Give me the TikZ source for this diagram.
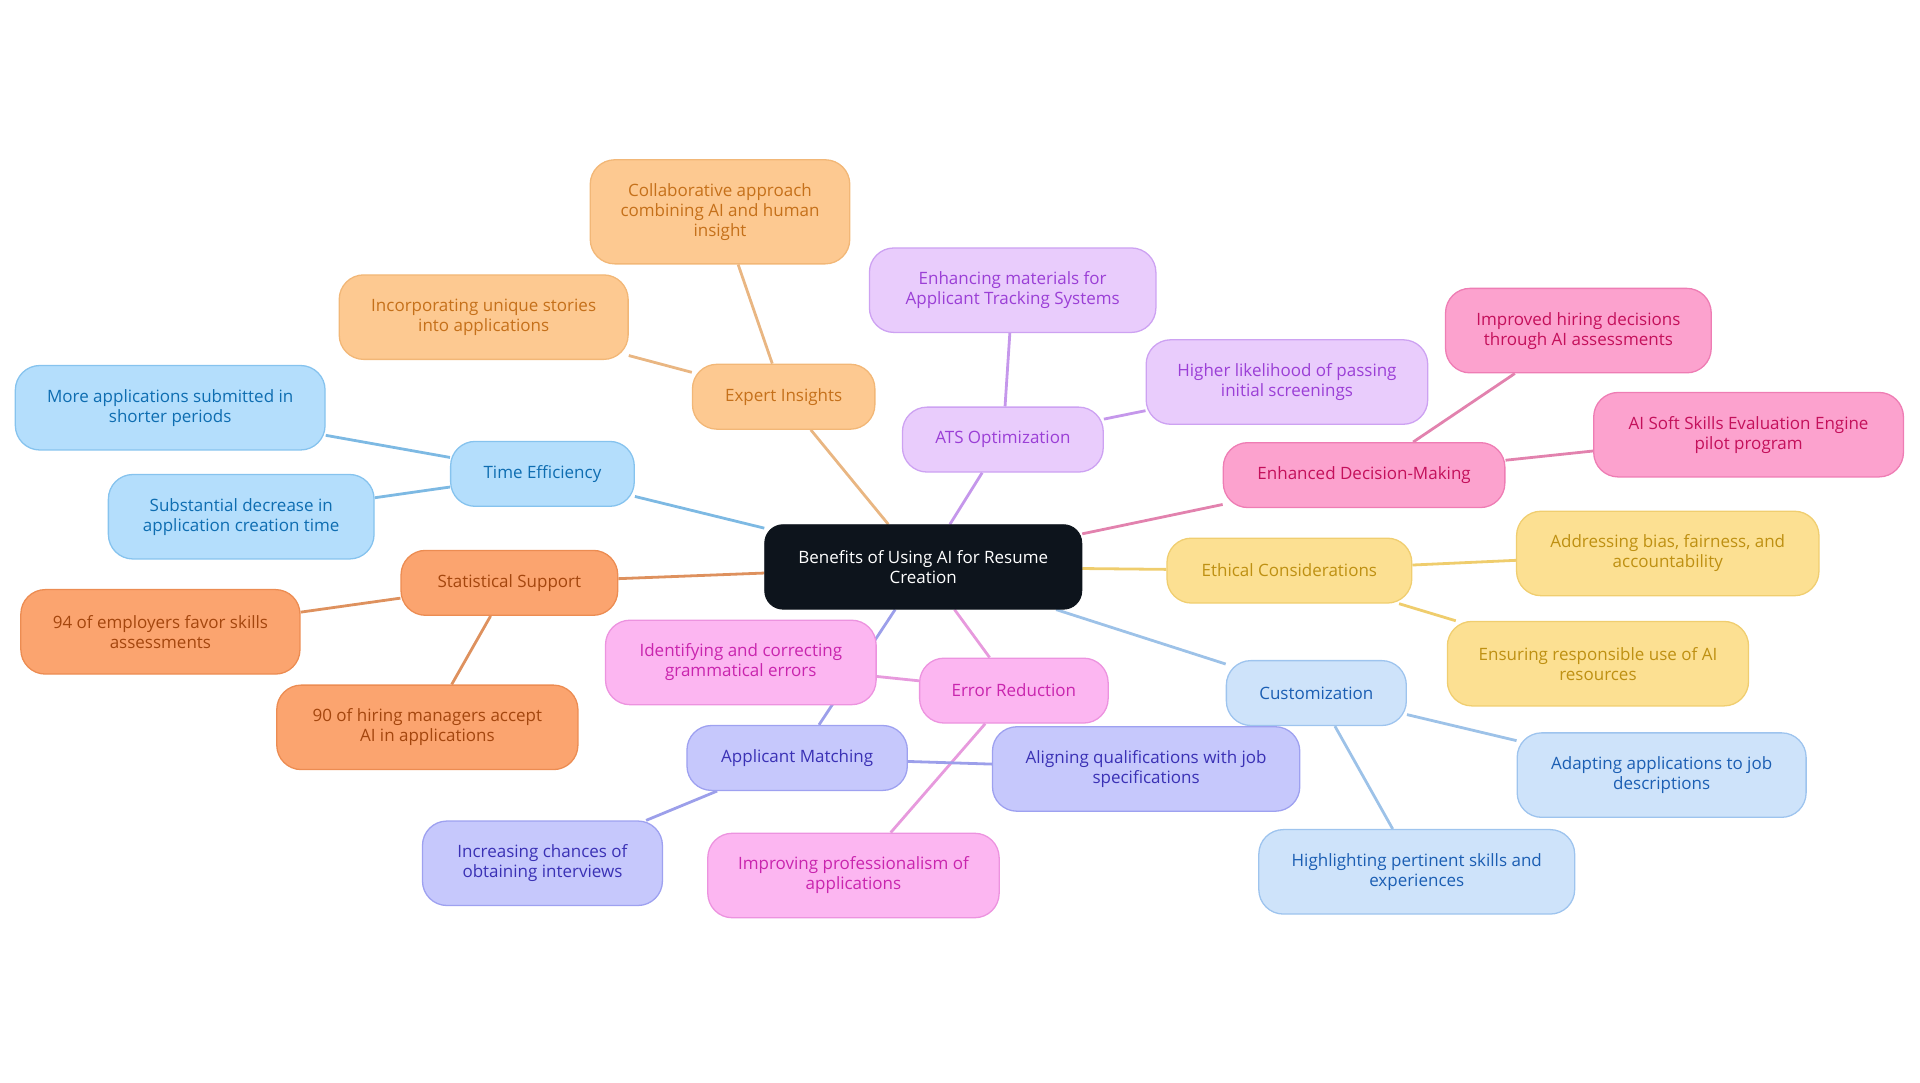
\documentclass[tikz,border=0pt]{standalone}
\usepackage{fontspec}
\setmainfont{Open Sans}
\usetikzlibrary{backgrounds}
\definecolor{rootfill}{HTML}{0D141C}
% one set of colours per branch: fill, rim, ink, edge
\definecolor{tefill}{HTML}{B4DEFC}\definecolor{terim}{HTML}{86C3EE}\definecolor{teink}{HTML}{0E6DB1}\definecolor{teedge}{HTML}{7DB9E3}
\definecolor{eifill}{HTML}{FDC991}\definecolor{eirim}{HTML}{F2B777}\definecolor{eiink}{HTML}{C5701A}\definecolor{eiedge}{HTML}{E9B682}
\definecolor{atfill}{HTML}{E9CCFC}\definecolor{atrim}{HTML}{CDA2F2}\definecolor{atink}{HTML}{9B3FD6}\definecolor{atedge}{HTML}{C597EB}
\definecolor{dmfill}{HTML}{FCA2CE}\definecolor{dmrim}{HTML}{EE7DB4}\definecolor{dmink}{HTML}{C4105B}\definecolor{dmedge}{HTML}{E282AE}
\definecolor{ecfill}{HTML}{FCE092}\definecolor{ecrim}{HTML}{F0CE70}\definecolor{ecink}{HTML}{BE9012}\definecolor{ecedge}{HTML}{EFCD6D}
\definecolor{cufill}{HTML}{CEE3FA}\definecolor{curim}{HTML}{9EC4EE}\definecolor{cuink}{HTML}{1B5EB3}\definecolor{cuedge}{HTML}{9DC2E8}
\definecolor{erfill}{HTML}{FCB6F1}\definecolor{errim}{HTML}{EC93DF}\definecolor{erink}{HTML}{C925AE}\definecolor{eredge}{HTML}{E79ADD}
\definecolor{amfill}{HTML}{C6C8FC}\definecolor{amrim}{HTML}{9EA1F0}\definecolor{amink}{HTML}{3A31B5}\definecolor{amedge}{HTML}{9C9FEA}
\definecolor{ssfill}{HTML}{FBA46F}\definecolor{ssrim}{HTML}{EC8C52}\definecolor{ssink}{HTML}{A4460E}\definecolor{ssedge}{HTML}{DE915E}
\newcommand{\mapfont}{\fontsize{7.9}{9.3}\selectfont}
\tikzset{
  rootbox/.style={rounded corners=0.3cm, fill=rootfill, draw=rootfill, text=white,
    minimum width=5.18cm, minimum height=1.38cm, align=center, inner sep=0pt, font=\mapfont},
  topic/.style={rounded corners=0.4cm, minimum height=1.06cm, line width=0.6pt,
    align=center, inner sep=0pt, font=\mapfont},
  leaf/.style={topic, minimum height=1.38cm},
  branch/.style={fill=#1fill, draw=#1rim, text=#1ink},
  link/.style={line width=1.3pt, draw=#1edge},
}
\begin{document}
\begin{tikzpicture}[x=0.02cm,y=-0.02cm]
  \useasboundingbox (0,0) rectangle (1568,884);
  \node[rootbox] (root) at (754,463) {Benefits of Using AI for Resume\\Creation};
  % main topics
  \node[topic,branch=te,minimum width=3.0cm]  (time)     at (443,387)  {Time Efficiency};
  \node[topic,branch=ei,minimum width=2.98cm] (expert)   at (640,324)  {Expert Insights};
  \node[topic,branch=at,minimum width=3.28cm] (ats)      at (819,359)  {ATS Optimization};
  \node[topic,branch=dm,minimum width=4.6cm]  (decision) at (1114,388) {Enhanced Decision-Making};
  \node[topic,branch=ec,minimum width=4.0cm]  (ethics)   at (1053,466) {Ethical Considerations};
  \node[topic,branch=cu,minimum width=2.94cm] (custom)   at (1075,566) {Customization};
  \node[topic,branch=er,minimum width=3.08cm] (errors)   at (828,564)  {Error Reduction};
  \node[topic,branch=am,minimum width=3.6cm]  (matching) at (651,619)  {Applicant Matching};
  \node[topic,branch=ss,minimum width=3.54cm] (stats)    at (416,476)  {Statistical Support};
  % details
  \node[leaf,branch=te,minimum width=5.06cm] (moreapps) at (139,333) {More applications submitted in\\shorter periods};
  \node[leaf,branch=te,minimum width=4.34cm] (lesstime) at (197,422) {Substantial decrease in\\application creation time};
  \node[leaf,branch=ei,minimum width=4.24cm,minimum height=1.7cm] (collab) at (588,173) {Collaborative approach\\combining AI and human\\insight};
  \node[leaf,branch=ei,minimum width=4.72cm] (stories)  at (395,259) {Incorporating unique stories\\into applications};
  \node[leaf,branch=at,minimum width=4.68cm] (atsdocs)  at (827,237) {Enhancing materials for\\Applicant Tracking Systems};
  \node[leaf,branch=at,minimum width=4.6cm]  (screens)  at (1051,312) {Higher likelihood of passing\\initial screenings};
  \node[leaf,branch=dm,minimum width=4.34cm] (hiring)   at (1289,270) {Improved hiring decisions\\through AI assessments};
  \node[leaf,branch=dm,minimum width=5.06cm] (pilot)    at (1428,355) {AI Soft Skills Evaluation Engine\\pilot program};
  \node[leaf,branch=ec,minimum width=4.94cm] (bias)     at (1362,452) {Addressing bias, fairness, and\\accountability};
  \node[leaf,branch=ec,minimum width=4.92cm] (respuse)  at (1305,542) {Ensuring responsible use of AI\\resources};
  \node[leaf,branch=cu,minimum width=4.72cm] (adapt)    at (1357,633) {Adapting applications to job\\descriptions};
  \node[leaf,branch=cu,minimum width=5.16cm] (skills)   at (1157,712) {Highlighting pertinent skills and\\experiences};
  \node[leaf,branch=er,minimum width=4.42cm] (grammar)  at (605,541) {Identifying and correcting\\grammatical errors};
  \node[leaf,branch=er,minimum width=4.76cm] (polish)   at (697,715) {Improving professionalism of\\applications};
  \node[leaf,branch=am,minimum width=5.02cm] (align)    at (936,628) {Aligning qualifications with job\\specifications};
  \node[leaf,branch=am,minimum width=3.92cm] (interview) at (443,705) {Increasing chances of\\obtaining interviews};
  \node[leaf,branch=ss,minimum width=4.56cm] (employers) at (131,516) {94 of employers favor skills\\assessments};
  \node[leaf,branch=ss,minimum width=4.92cm] (managers)  at (349,594) {90 of hiring managers accept\\AI in applications};
  % connectors behind the boxes
  \begin{scope}[on background layer]
    \draw[link=te] (root) -- (time);     \draw[link=te] (time) -- (moreapps);   \draw[link=te] (time) -- (lesstime);
    \draw[link=ei] (root) -- (expert);   \draw[link=ei] (expert) -- (collab);   \draw[link=ei] (expert) -- (stories);
    \draw[link=at] (root) -- (ats);      \draw[link=at] (ats) -- (atsdocs);     \draw[link=at] (ats) -- (screens);
    \draw[link=dm] (root) -- (decision); \draw[link=dm] (decision) -- (hiring); \draw[link=dm] (decision) -- (pilot);
    \draw[link=ec] (root) -- (ethics);   \draw[link=ec] (ethics) -- (bias);     \draw[link=ec] (ethics) -- (respuse);
    \draw[link=cu] (root) -- (custom);   \draw[link=cu] (custom) -- (adapt);    \draw[link=cu] (custom) -- (skills);
    \draw[link=er] (root) -- (errors);   \draw[link=er] (errors) -- (grammar);  \draw[link=er] (errors) -- (polish);
    \draw[link=am] (root) -- (matching); \draw[link=am] (matching) -- (align);  \draw[link=am] (matching) -- (interview);
    \draw[link=ss] (root) -- (stats);    \draw[link=ss] (stats) -- (employers); \draw[link=ss] (stats) -- (managers);
  \end{scope}
\end{tikzpicture}
\end{document}
